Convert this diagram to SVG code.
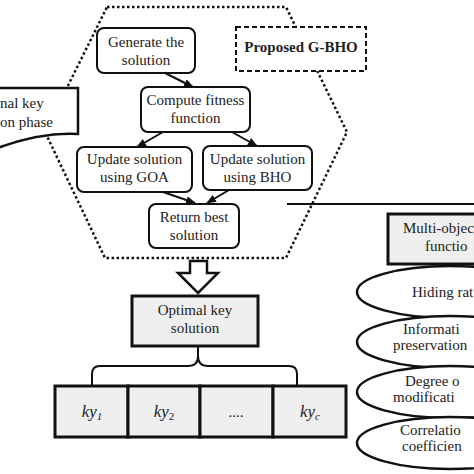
<svg xmlns="http://www.w3.org/2000/svg" width="474" height="474" viewBox="0 0 474 474">
<style>
text{font-family:"Liberation Serif","Times New Roman",serif;font-size:15px;fill:#222}
.c{text-anchor:middle}
.rb{fill:#fff;stroke:#111;stroke-width:2}
.gb{fill:#efefef;stroke:#111;stroke-width:3}
.el{fill:#fff;stroke:#111;stroke-width:2.5}
.ln{fill:none;stroke:#111;stroke-width:2}
.it{font-style:italic;font-size:17px}
</style>
<defs>
<marker id="ah" markerUnits="userSpaceOnUse" markerWidth="10" markerHeight="8" refX="9" refY="4" orient="auto">
<path d="M0,0 L10,4 L0,8 Z" fill="#111"/>
</marker>
</defs>
<rect width="474" height="474" fill="#fff"/>

<g id="hexagon">
<polygon points="107,7 286,7 347,132 286,258 105,258 45,132" fill="none" stroke="#111" stroke-width="2.5" stroke-dasharray="2.5 2.5"/>
</g>

<g id="line-right">
<line x1="287" y1="204" x2="474" y2="204" stroke="#111" stroke-width="2"/>
</g>

<g id="phase-box">
<path d="M-5,88 H78 V134 Q40,132 -5,149 Z" fill="#fff" stroke="#111" stroke-width="2.5"/>
<text x="0" y="108">nal key</text>
<text x="0" y="127">on phase</text>
</g>

<g id="gbho-label">
<rect x="236" y="27" width="130" height="44" fill="#fff" stroke="#111" stroke-width="2" stroke-dasharray="5 3"/>
<text x="301" y="52" class="c" style="font-weight:bold">Proposed G-BHO</text>
</g>

<g id="connectors">
<line x1="165" y1="73" x2="193" y2="87" class="ln" marker-end="url(#ah)"/>
<line x1="163" y1="132" x2="137" y2="147" class="ln" marker-end="url(#ah)"/>
<line x1="232" y1="132" x2="257" y2="146" class="ln" marker-end="url(#ah)"/>
<line x1="163" y1="192" x2="195" y2="203" class="ln" marker-end="url(#ah)"/>
<line x1="229" y1="190" x2="207" y2="203" class="ln" marker-end="url(#ah)"/>
<polygon points="190,261 207,261 207,273 218,273 198,293 178,273 190,273" fill="#fff" stroke="#111" stroke-width="2.5"/>
<path d="M198,346 V356 Q198,366 188,366 H100 Q92,366 92,374 V386" class="ln" stroke-width="2.5"/>
<path d="M198,356 Q198,366 208,366 H289 Q297,366 297,374 V386" class="ln" stroke-width="2.5"/>
</g>

<g id="generate">
<rect x="97" y="28" width="98" height="45" rx="7" class="rb"/>
<text x="146" y="47" class="c">Generate the</text>
<text x="146" y="65" class="c">solution</text>
</g>

<g id="compute">
<rect x="141" y="87" width="109" height="45" rx="7" class="rb"/>
<text x="195.5" y="105" class="c">Compute fitness</text>
<text x="195.5" y="123" class="c">function</text>
</g>

<g id="goa">
<rect x="77" y="147" width="115" height="45" rx="7" class="rb"/>
<text x="134.5" y="164" class="c">Update solution</text>
<text x="134.5" y="182" class="c">using GOA</text>
</g>

<g id="bho">
<rect x="203" y="146" width="109" height="44" rx="7" class="rb"/>
<text x="257.5" y="164" class="c">Update solution</text>
<text x="257.5" y="182" class="c">using BHO</text>
</g>

<g id="return">
<rect x="149" y="204" width="90" height="44" rx="7" class="rb"/>
<text x="194" y="222" class="c">Return best</text>
<text x="194" y="240" class="c">solution</text>
</g>

<g id="optimal">
<rect x="132" y="296" width="126" height="50" class="gb"/>
<text x="195" y="315" class="c">Optimal key</text>
<text x="195" y="333" class="c">solution</text>
</g>

<g id="ky1">
<rect x="55" y="386" width="73" height="51" class="gb"/>
<text x="92" y="417" class="c it">ky<tspan font-size="11" dy="3">1</tspan></text>
</g>
<g id="ky2">
<rect x="128" y="386" width="72" height="51" class="gb"/>
<text x="164" y="417" class="c it">ky<tspan font-size="11" dy="3" font-style="normal">2</tspan></text>
</g>
<g id="kydots">
<rect x="200" y="386" width="73" height="51" class="gb"/>
<text x="236" y="417" class="c">....</text>
</g>
<g id="kyc">
<rect x="273" y="386" width="73" height="51" class="gb"/>
<text x="310" y="417" class="c it">ky<tspan font-size="11" dy="3">c</tspan></text>
</g>

<g id="multi">
<rect x="388" y="214" width="130" height="50" class="gb"/>
<text x="403" y="233">Multi-objec</text>
<text x="425" y="251">functio</text>
</g>

<g id="hiding">
<ellipse cx="450" cy="292" rx="93" ry="26" class="el"/>
<text x="412" y="297">Hiding rat</text>
</g>
<g id="information">
<ellipse cx="450" cy="342" rx="93" ry="26" class="el"/>
<text x="403" y="334">Informati</text>
<text x="393" y="350">preservation</text>
</g>
<g id="degree">
<ellipse cx="450" cy="392" rx="93" ry="26" class="el"/>
<text x="405" y="386">Degree o</text>
<text x="393" y="402">modificati</text>
</g>
<g id="correlation">
<ellipse cx="450" cy="443" rx="93" ry="26" class="el"/>
<text x="400" y="435">Correlatio</text>
<text x="402" y="451">coefficien</text>
</g>
</svg>
